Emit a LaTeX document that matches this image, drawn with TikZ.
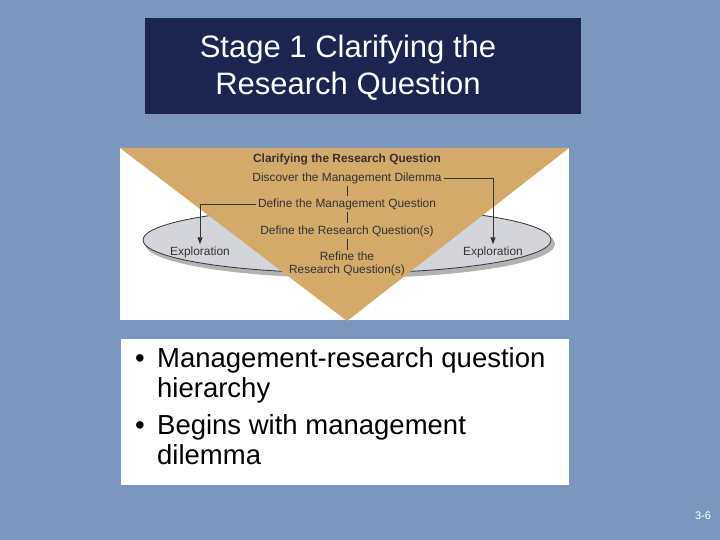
\documentclass[tikz,border=0pt]{standalone}
\usepackage{fontspec}
\setmainfont{Liberation Sans}
\usetikzlibrary{arrows.meta}
\definecolor{bg}{HTML}{7B97C0}
\definecolor{navy}{HTML}{1C2452}
\definecolor{tan}{HTML}{D4AA6A}
\definecolor{ell}{HTML}{D3D5DA}
\definecolor{txt}{HTML}{333333}
\tikzset{lbl/.style={font=\fontsize{11.9}{13}\selectfont,text=txt,inner sep=2pt,align=center},
 conn/.style={draw=txt,line width=0.9pt},
 arr/.style={conn,-{Triangle[length=7pt,width=5pt]}}}
\begin{document}
\begin{tikzpicture}[x=1pt,y=-1pt]
\fill[bg] (0,0) rectangle (720,540);
\useasboundingbox (0,0) rectangle (720,540);
% title
\fill[navy] (145,18) rectangle (581,114);
\node[text=white,align=center,font=\fontsize{31}{37}\selectfont] (title) at (348,68) {Stage 1 Clarifying the\\Research Question};
% figure panel
\fill[white] (120,148) rectangle (569,320);
\fill[gray!60] (350,244) ellipse (205 and 34);
\filldraw[fill=ell,draw=txt,line width=0.8pt] (347,240) ellipse (204 and 33);
\fill[tan] (120,148) -- (569,148) -- (347,321) -- cycle;
\node[lbl,font=\fontsize{11.9}{13}\selectfont\bfseries] (h) at (347,159) {Clarifying the Research Question};
\node[lbl] (d1) at (347,178) {Discover the Management Dilemma};
\node[lbl] (d2) at (347,204) {Define the Management Question};
\node[lbl] (d3) at (347,231) {Define the Research Question(s)};
\node[lbl,font=\fontsize{11.9}{13}\selectfont] (d4) at (347,264) {Refine the\\Research Question(s)};
\node[lbl] (e1) at (200,252) {Exploration};
\node[lbl] (e2) at (493,252) {Exploration};
\draw[conn] (d1) -- (d2);
\draw[conn] (d2) -- (d3);
\draw[conn] (d3) -- (d4);
\draw[arr] (d2.west) -| (e1.north);
\draw[arr] (d1.east) -| (e2.north);
% bullets
\fill[white] (121,339) rectangle (569,485);
\node[anchor=north west,inner sep=0pt] (b) at (128,347) {%
\begin{minipage}{430pt}\fontsize{27.5}{30}\selectfont\raggedright
\leftskip=29pt \parindent=-22pt \parskip=7pt
\makebox[22pt][l]{•}Management-research question hierarchy\par
\makebox[22pt][l]{•}Begins with management dilemma\par
\end{minipage}};
\node[text=white,font=\fontsize{11}{12}\selectfont] (pg) at (703,516) {3-6};
\end{tikzpicture}
\end{document}
